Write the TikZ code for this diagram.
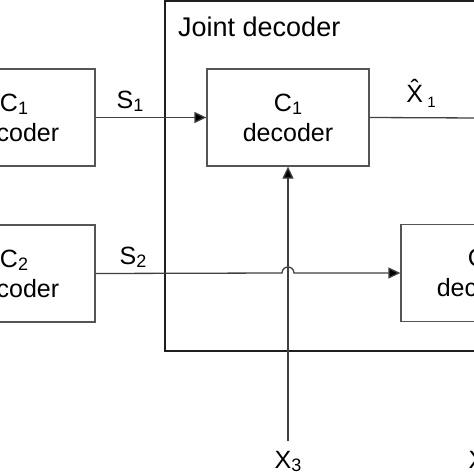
\documentclass[tikz,border=0pt]{standalone}
\usepackage{fontspec}
\setmainfont{Liberation Sans}
\usetikzlibrary{arrows.meta}
\definecolor{boxgray}{HTML}{555555}
\definecolor{linegray}{HTML}{404040}
\definecolor{framegray}{HTML}{1E1E1E}
\newcommand\mysub[1]{\raisebox{-3pt}{\fontsize{18}{18}\selectfont #1}}
\newcommand\mysmallsub[1]{\raisebox{-5pt}{\fontsize{15}{15}\selectfont #1}}
\begin{document}
\begin{tikzpicture}[x=1pt,y=-1pt,
  box/.style={draw=boxgray,line width=1.3pt,minimum width=162pt,minimum height=97pt,
    align=center,inner sep=0pt,font=\fontsize{25}{30}\selectfont},
  frame/.style={draw=framegray,line width=2.6pt,minimum width=435pt,minimum height=350pt,inner sep=0pt},
  lbl/.style={anchor=base,inner sep=0pt,font=\fontsize{25}{30}\selectfont},
  conn/.style={draw=linegray,line width=1.3pt},
  arr/.style={conn,-{Triangle[length=12pt,width=11pt,fill=black]}}
]
\useasboundingbox (0,0) rectangle (474,474);
% joint decoder frame
\node[frame] (joint) at (382.5,176) {};
\node[anchor=base west,inner sep=0pt,font=\fontsize{27}{30}\selectfont] (jointlbl) at (178,36) {Joint decoder};
% encoders
\node[box] (enc1) at (14,117.5) {C\mysub{1}\\encoder};
\node[box] (enc2) at (14,273.5) {C\mysub{2}\\encoder};
% decoders
\node[box] (dec1) at (288,117.5) {C\mysub{1}\\decoder};
\node[box] (dec2) at (482,273) {C\mysub{2}\\decoder};
% free ends
\coordinate (out1) at (480,118);
\coordinate (x3in) at (288,441);
\coordinate (jumpL) at (282,273);
% connectors
\draw[arr] (enc1.east) -- (dec1.west);
\draw[conn] (dec1.east) -- (out1);
\draw[arr] (x3in) -- (dec1.south);
\draw[arr] (enc2.east) -- (jumpL) arc[start angle=180,end angle=0,radius=6pt] -- (dec2.west);
% labels
\node[lbl] (s1) at (130,108) {S\mysub{1}};
\node[lbl] (s2) at (133,264) {S\mysub{2}};
\node[lbl] (xh1) at (421,102) {\^{X}\,\mysmallsub{1}};
\node[lbl] (x3) at (288,468) {X\mysub{3}};
\node[lbl] (x3b) at (482,468) {X\mysub{3}};
\end{tikzpicture}
\end{document}
